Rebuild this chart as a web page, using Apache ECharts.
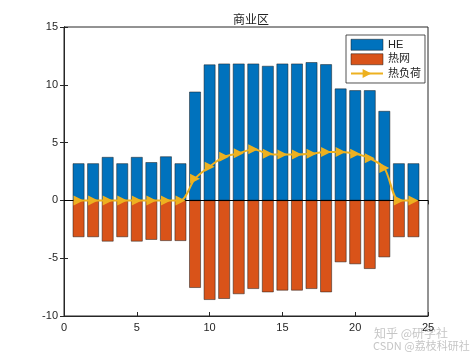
<!DOCTYPE html>
<html>
<head>
<meta charset="utf-8">
<script src="https://cdn.jsdelivr.net/npm/echarts@6/dist/echarts.min.js"></script>
<style>
html,body{margin:0;padding:0;background:#fff;}
#c{width:474px;height:355px;}
</style>
</head>
<body>
<div id="c"></div>
<script>
const hours = [1,2,3,4,5,6,7,8,9,10,11,12,13,14,15,16,17,18,19,20,21,22,23,24];
const heValues = [3.2,3.2,3.75,3.2,3.75,3.3,3.8,3.2,9.4,11.75,11.83,11.83,11.83,11.63,11.83,11.83,11.95,11.77,9.67,9.52,9.52,7.73,3.2,3.2];
const netValues = [-3.17,-3.17,-3.55,-3.17,-3.55,-3.4,-3.5,-3.5,-7.56,-8.6,-8.51,-8.1,-7.65,-7.94,-7.79,-7.79,-7.65,-7.94,-5.34,-5.51,-5.92,-4.91,-3.17,-3.17];
const loadValues = [0,0,0,0,0,0,0,0,1.88,2.92,3.78,4.07,4.43,4.04,3.96,3.96,4.04,4.18,4.18,4.04,3.64,2.8,0,0];
const xTicks = [0,5,10,15,20,25];
const yTicks = [-10,-5,0,5,10,15];

const pair = (vals) => hours.map((h, i) => [h, vals[i]]);
const axisColor = '#262626';
const labelFont = {color:'#262626', fontSize:11, fontFamily:'Liberation Sans, Arial, sans-serif'};

const chart = echarts.init(document.getElementById('c'));
chart.setOption({
  animation:false,
  backgroundColor:'#fff',
  title:{
    text:'商业区', left:246, top:8, textAlign:'center',
    textStyle:{fontSize:12, fontWeight:'normal', color:'#222', fontFamily:'Noto Sans CJK SC'}
  },
  grid:{left:64, right:46, top:27, bottom:39, show:true, borderColor:axisColor, borderWidth:1, backgroundColor:'transparent'},
  legend:{
    orient:'vertical', left:346, top:35, padding:[4,4,4,4], itemGap:3,
    itemWidth:32, itemHeight:11, backgroundColor:'#fff', borderColor:axisColor, borderWidth:0.8,
    textStyle:{fontSize:11, color:'#222', fontFamily:'Liberation Sans, Noto Sans CJK SC'},
    data:[
      {name:'HE', icon:'rect', itemStyle:{borderWidth:0.5, borderColor:'#1a1a1a'}},
      {name:'热网', icon:'rect', itemStyle:{borderWidth:0.5, borderColor:'#1a1a1a'}},
      {name:'热负荷'}
    ]
  },
  xAxis:[{
    type:'value', min:xTicks[0], max:xTicks[xTicks.length-1], interval:5,
    axisLine:{show:true, onZero:false, lineStyle:{color:axisColor}},
    axisTick:{show:true, inside:true, length:4, lineStyle:{color:axisColor}},
    axisLabel:Object.assign({margin:6}, labelFont),
    splitLine:{show:false}
  },{
    type:'value', position:'top', min:xTicks[0], max:xTicks[xTicks.length-1], interval:5,
    axisLine:{show:true, lineStyle:{color:axisColor}},
    axisTick:{show:true, inside:true, length:4, lineStyle:{color:axisColor}},
    axisLabel:{show:false}, splitLine:{show:false}
  }],
  yAxis:[{
    type:'value', min:yTicks[0], max:yTicks[yTicks.length-1], interval:5,
    axisLine:{show:true, onZero:false, lineStyle:{color:axisColor}},
    axisTick:{show:true, inside:true, length:4, lineStyle:{color:axisColor}},
    axisLabel:Object.assign({margin:6}, labelFont),
    splitLine:{show:false}
  },{
    type:'value', position:'right', min:yTicks[0], max:yTicks[yTicks.length-1], interval:5,
    axisLine:{show:true, lineStyle:{color:axisColor}},
    axisTick:{show:true, inside:true, length:4, lineStyle:{color:axisColor}},
    axisLabel:{show:false}, splitLine:{show:false}
  }],
  series:[{
    name:'HE', type:'bar', data:pair(heValues), barWidth:11.6, barGap:'-100%',
    itemStyle:{color:'#0072BD', borderColor:'#1a1a1a', borderWidth:0.5},
    markLine:{silent:true, symbol:'none', label:{show:false}, lineStyle:{color:'#000', width:1, type:'solid'}, data:[{yAxis:0}]}
  },{
    name:'热网', type:'bar', data:pair(netValues), barWidth:11.6, barGap:'-100%',
    itemStyle:{color:'#D95319', borderColor:'#1a1a1a', borderWidth:0.5}
  },{
    name:'热负荷', type:'line', data:pair(loadValues), smooth:0.3,
    symbol:'triangle', symbolSize:10, symbolRotate:-90,
    lineStyle:{color:'#EDB120', width:2},
    itemStyle:{color:'#EDB120'}, z:5
  }],
  graphic:[{
    type:'text', left:374, top:327,
    style:{text:'知乎 @研学社', fill:'rgba(150,150,150,0.55)', fontSize:12, fontFamily:'Noto Sans CJK SC'}
  },{
    type:'text', left:373, top:340,
    style:{text:'CSDN @荔枝科研社', fill:'rgba(150,150,150,0.55)', fontSize:11, fontFamily:'Noto Sans CJK SC'}
  }]
});
</script>
</body>
</html>
